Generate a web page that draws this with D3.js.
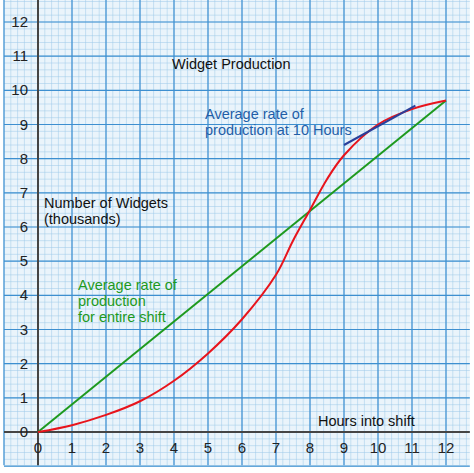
<!DOCTYPE html>
<html><head><meta charset="utf-8">
<script src="https://cdn.jsdelivr.net/npm/d3@7"></script>
<style>body{margin:0;background:#fff}text{font-family:"Liberation Sans",Arial,sans-serif}</style>
</head><body><svg id="chart" width="474" height="473"></svg>
<script>
const hours = [0, 1, 2, 3, 4, 5, 6, 7, 7.5, 8, 8.5, 9, 10, 11, 12]
const widgets = [0, 0.2, 0.5, 0.9, 1.5, 2.3, 3.3, 4.6, 5.6, 6.5, 7.4, 8.1, 9.0, 9.45, 9.7]
const averageLine = [[0, 0], [12, 9.7]]
const tangentLine = [[9, 8.4], [11.1, 9.55]]
const xTicks = d3.range(0, 13)
const yTicks = d3.range(0, 13)

const svg = d3.select('#chart')
const x = d3.scaleLinear().domain([0, 12]).range([38, 446])
const y = d3.scaleLinear().domain([0, 12]).range([432, 22])

// graph paper
svg.append('rect').attr('x', x(-1)).attr('y', y(12.65)).attr('width', x(12.7) - x(-1)).attr('height', y(-0.97) - y(12.65)).attr('fill', '#eaf4fb')
const minor = d3.range(-1, 12.8, 0.2)
svg.append('g').selectAll('line').data(minor).join('line')
  .attr('x1', d => x(d)).attr('x2', d => x(d)).attr('y1', y(12.65)).attr('y2', y(-0.97))
  .attr('stroke', '#9cc8e8').attr('stroke-width', 0.5)
svg.append('g').selectAll('line').data(minor.filter(d => d < 12.65)).join('line')
  .attr('y1', d => y(d)).attr('y2', d => y(d)).attr('x1', x(-1)).attr('x2', x(12.7))
  .attr('stroke', '#9cc8e8').attr('stroke-width', 0.5)
const major = d3.range(-1, 13)
svg.append('g').selectAll('line').data(major).join('line')
  .attr('x1', d => x(d)).attr('x2', d => x(d)).attr('y1', y(12.65)).attr('y2', y(-0.97))
  .attr('stroke', '#3d8fd0').attr('stroke-width', 1.2)
svg.append('g').selectAll('line').data(major).join('line')
  .attr('y1', d => y(d)).attr('y2', d => y(d)).attr('x1', x(-1)).attr('x2', x(12.7))
  .attr('stroke', '#3d8fd0').attr('stroke-width', 1.2)

// axes
svg.append('line').attr('x1', x(0)).attr('x2', x(0)).attr('y1', y(12.65)).attr('y2', y(-0.97)).attr('stroke', '#444').attr('stroke-width', 2)
svg.append('line').attr('x1', x(-1)).attr('x2', x(12.7)).attr('y1', y(0)).attr('y2', y(0)).attr('stroke', '#444').attr('stroke-width', 2)

svg.append('g').selectAll('text').data(xTicks).join('text')
  .attr('x', d => x(d)).attr('y', y(0) + 21).attr('text-anchor', 'middle').attr('font-size', 15).attr('fill', '#222').text(d => d)
svg.append('g').selectAll('text').data(yTicks).join('text')
  .attr('x', 28).attr('y', d => y(d) + 5).attr('text-anchor', 'end').attr('font-size', 15).attr('fill', '#222').text(d => d)

const line = d3.line().x(d => x(d[0])).y(d => y(d[1]))
svg.append('path').attr('d', line(averageLine)).attr('fill', 'none').attr('stroke', '#1e9a1e').attr('stroke-width', 2)
svg.append('path').attr('d', d3.line().x(d => x(d[0])).y(d => y(d[1])).curve(d3.curveCatmullRom)(hours.map((h, i) => [h, widgets[i]])))
  .attr('fill', 'none').attr('stroke', '#e8141c').attr('stroke-width', 2)
svg.append('path').attr('d', line(tangentLine)).attr('fill', 'none').attr('stroke', '#2a3f9a').attr('stroke-width', 2)

const label = (lines, tx, ty, color) => svg.append('text').attr('font-size', 14.5).attr('fill', color)
  .selectAll('tspan').data(lines).join('tspan').attr('x', tx).attr('y', (d, i) => ty + i * 16).text(d => d)
label(['Widget Production'], 172, 69, '#111')
label(['Average rate of', 'production at 10 Hours'], 205, 119, '#1f5fa8')
label(['Number of Widgets', '(thousands)'], 44, 208, '#111')
label(['Average rate of', 'production', 'for entire shift'], 78, 290, '#1e9a1e')
label(['Hours into shift'], 318, 426, '#111')
</script></body></html>
